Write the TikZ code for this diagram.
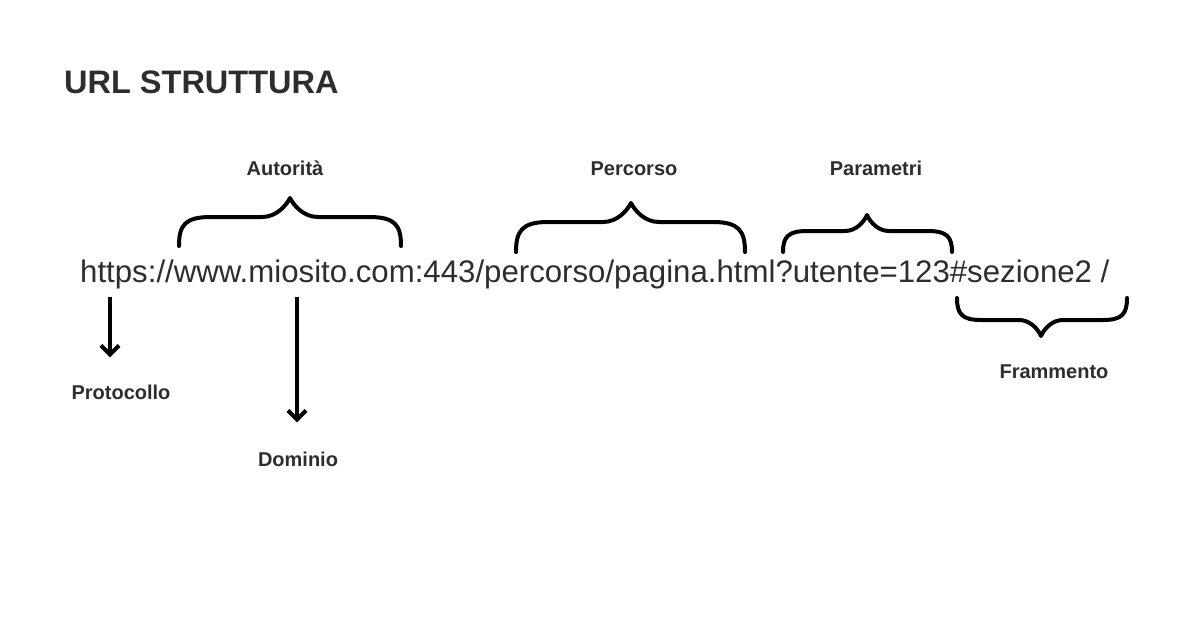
\documentclass[tikz,border=0pt]{standalone}
\usepackage{fontspec}
\setmainfont{Liberation Sans}
\usepackage{tikz}
\usetikzlibrary{arrows.meta,calc}
\definecolor{inkgray}{RGB}{43,45,49}

\begin{document}
\begin{tikzpicture}[x=1pt,y=-1pt]
\tikzstyle{title}=[inner sep=0, anchor=base west, text=inkgray, font=\fontsize{32.5}{38}\selectfont\bfseries]
\tikzstyle{url}=[inner sep=0, anchor=base west, text=inkgray, font=\fontsize{31.2}{36}\selectfont]
\tikzstyle{part}=[inner sep=0, anchor=base, text=inkgray, font=\fontsize{20}{24}\selectfont\bfseries]
\tikzstyle{connect}=[-{Straight Barb[length=9pt,width=18pt]}, line width=4pt]
\tikzstyle{curly}=[line width=4pt, line cap=round, line join=round]
\useasboundingbox (0,0) rectangle (1200,627);

  \node[title] (titolo) at (64,93) {URL STRUTTURA};
  \node[url] (indirizzo) at (80,282) {https://www.miosito.com:443/percorso/pagina.html?utente=123\#sezione2 /};

  \node[part] (autorita) at (285,175) {Autorità};
  \node[part] (percorso) at (634,175) {Percorso};
  \node[part] (parametri) at (876,175) {Parametri};
  \node[part] (frammento) at (1054,378) {Frammento};
  \node[part] (protocollo) at (121,399) {Protocollo};
  \node[part] (dominio) at (298,466) {Dominio};

\coordinate (prot_start) at (110,297);
\coordinate (dom_start) at (297,297);

% graffe sopra e sotto l'indirizzo
\draw[curly] (179,246) .. controls (179,225) and (185,217) .. (211,217) -- (262,217)
  .. controls (276,217) and (286,206) .. (290,198) .. controls (294,206) and (304,217) .. (318,217)
  -- (369,217) .. controls (395,217) and (401,225) .. (401,246);
\draw[curly] (516,252) .. controls (516,231) and (522,222) .. (548,222) -- (603,222)
  .. controls (617,222) and (627,211) .. (631,203) .. controls (635,211) and (645,222) .. (659,222)
  -- (713,222) .. controls (739,222) and (745,231) .. (745,252);
\draw[curly] (783,252) .. controls (783,237) and (788,231) .. (807,231) -- (845,231)
  .. controls (856,231) and (864,222) .. (867,215) .. controls (870,222) and (878,231) .. (889,231)
  -- (928,231) .. controls (947,231) and (952,237) .. (952,252);
\draw[curly] (957,298) .. controls (957,314) and (962,320) .. (981,320) -- (1019,320)
  .. controls (1030,320) and (1038,329) .. (1041,336) .. controls (1044,329) and (1052,320) .. (1063,320)
  -- (1103,320) .. controls (1122,320) and (1127,314) .. (1127,298);

  \path
 (prot_start) edge [connect, shorten >=27pt] (prot_start |- protocollo.north)
 (dom_start) edge [connect, shorten >=29pt] (dom_start |- dominio.north);
\end{tikzpicture}
\end{document}
